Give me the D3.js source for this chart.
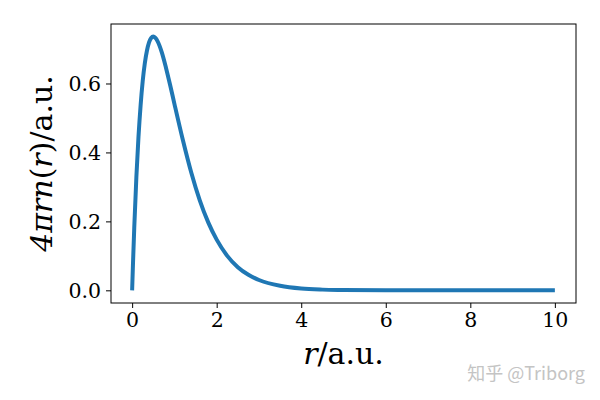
<!DOCTYPE html>
<html><head><meta charset="utf-8">
<script src="https://cdn.jsdelivr.net/npm/d3@7"></script>
<style>body{margin:0;background:#fff}</style>
</head><body>
<svg id="c" width="600" height="400"></svg>
<script>
const rValues = [0, 0.02, 0.05, 0.1, 0.15, 0.2, 0.25, 0.3, 0.35, 0.4, 0.45, 0.5, 0.55, 0.6, 0.7, 0.8, 0.9, 1.0, 1.2, 1.4, 1.6, 1.8, 2.0, 2.25, 2.5, 2.75, 3.0, 3.5, 4.0, 4.5, 5.0, 6.0, 7.0, 8.0, 9.0, 10.0];
const densityValues = [0, 0.077, 0.181, 0.328, 0.445, 0.536, 0.607, 0.659, 0.695, 0.719, 0.732, 0.736, 0.732, 0.723, 0.691, 0.646, 0.595, 0.541, 0.436, 0.341, 0.261, 0.197, 0.147, 0.100, 0.067, 0.045, 0.030, 0.013, 0.005, 0.002, 0.001, 0.0001, 0, 0, 0, 0];
const xTicks = [0, 2, 4, 6, 8, 10];
const yTicks = [0.0, 0.2, 0.4, 0.6];

const svg = d3.select("#c");
const L = 111, R = 576, T = 24, B = 303;
const x = d3.scaleLinear().domain([-0.5, 10.5]).range([L, R]);
const y = d3.scaleLinear().domain([-0.0368, 0.7726]).range([B, T]);
const serif = "'DejaVu Serif', serif";

const data = rValues.map((r, i) => [r, densityValues[i]]);
svg.append("path").datum(data)
  .attr("fill", "none").attr("stroke", "#1f77b4").attr("stroke-width", 4)
  .attr("stroke-linecap", "butt")
  .attr("d", d3.line().x(d => x(d[0])).y(d => y(d[1])).curve(d3.curveMonotoneX));

const xa = svg.append("g").attr("transform", `translate(0,${B})`)
  .call(d3.axisBottom(x).tickValues(xTicks).tickFormat(d3.format("d")).tickSizeOuter(0).tickSize(5).tickPadding(4));
const ya = svg.append("g").attr("transform", `translate(${L},0)`)
  .call(d3.axisLeft(y).tickValues(yTicks).tickFormat(d3.format(".1f")).tickSizeOuter(0).tickSize(5).tickPadding(5));
[xa, ya].forEach(a => {
  a.select(".domain").remove();
  a.selectAll("text").attr("font-family", serif).attr("font-size", 20.5).attr("fill", "#000");
  a.selectAll("line").attr("stroke", "#000").attr("stroke-width", 1);
});
ya.selectAll("text").attr("dy", "0.35em");

svg.append("rect").attr("x", L).attr("y", T).attr("width", R - L).attr("height", B - T)
  .attr("fill", "none").attr("stroke", "#000").attr("stroke-width", 1);

const xl = svg.append("text").attr("x", (L + R) / 2).attr("y", 364).attr("text-anchor", "middle")
  .attr("font-family", serif).attr("font-size", 30).attr("fill", "#000");
xl.append("tspan").attr("font-style", "italic").text("r");
xl.append("tspan").text("/a.u.");

const yl = svg.append("text").attr("transform", `translate(52,${(T + B) / 2}) rotate(-90)`)
  .attr("text-anchor", "middle").attr("font-family", serif).attr("font-size", 30).attr("fill", "#000");
yl.append("tspan").attr("font-style", "italic").text("4πrn");
yl.append("tspan").text("(");
yl.append("tspan").attr("font-style", "italic").text("r");
yl.append("tspan").text(")/a.u.");

svg.append("text").attr("x", 585).attr("y", 380).attr("text-anchor", "end")
  .attr("font-family", "'Noto Sans CJK SC', sans-serif").attr("font-size", 18).attr("fill", "#c4c4c4")
  .text("知乎 @Triborg");
</script>
</body></html>
